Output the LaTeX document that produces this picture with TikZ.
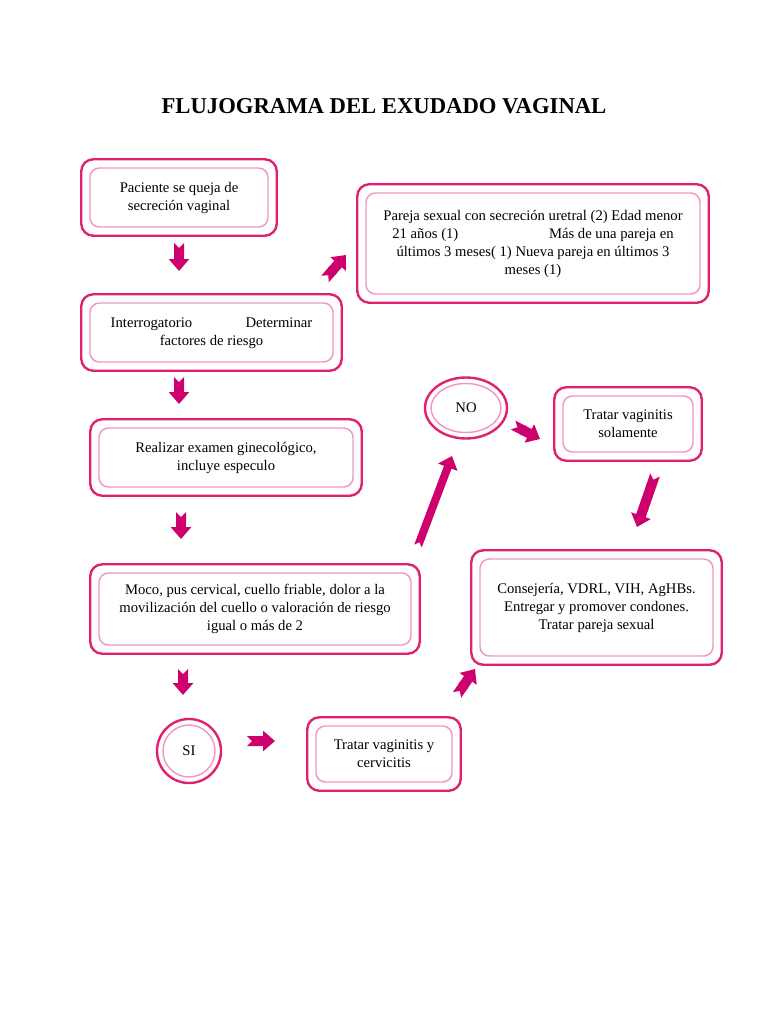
\documentclass[tikz,border=0pt]{standalone}
\usepackage{fontspec}
\setmainfont{Liberation Serif}
\usetikzlibrary{fit,shapes.geometric,arrows.meta}

\definecolor{bordeRosa}{RGB}{224,32,112}
\definecolor{rosaClaro}{RGB}{242,150,196}
\definecolor{flechaRosa}{RGB}{206,0,110}

\tikzset{
  caja/.style={draw=rosaClaro, line width=1.1pt, rounded corners=7pt, inner sep=0pt, align=center, font=\fontsize{11}{13.5}\selectfont},
  marco/.style={draw=bordeRosa, line width=1.8pt, rounded corners=9pt, inner sep=6pt},
  flecha/.style={draw=flechaRosa, line width=7.5pt, {Triangle Cap[reversed]}-{Triangle[width=15pt,length=9pt]}},
}

\begin{document}
\begin{tikzpicture}[x=0.75pt,y=0.75pt,yscale=-1,xscale=1]
\useasboundingbox (0,0) rectangle (768,1024);

% Text Node
\node[font=\fontsize{17}{20}\selectfont\bfseries] (titulo) at (384,106) {FLUJOGRAMA DEL EXUDADO VAGINAL};

%Shape: Rounded Rect [paciente]
\node[caja, minimum width=133.5pt, minimum height=44.25pt] (paciente) at (179,197.5) {Paciente se queja de\\secreción vaginal};
\node[marco, fit=(paciente)] (paciente-o) {};
%Shape: Rounded Rect [pareja]
\node[caja, minimum width=250.5pt, minimum height=75.75pt] (pareja) at (533,243.5) {Pareja sexual con secreción uretral (2) Edad menor\\21 años (1)\hspace*{68pt}Más de una pareja en\\últimos 3 meses( 1) Nueva pareja en últimos 3\\meses (1)};
\node[marco, fit=(pareja)] (pareja-o) {};
%Shape: Rounded Rect [interrogatorio]
\node[caja, minimum width=182.25pt, minimum height=44.25pt] (interrog) at (211.5,332.5) {\raisebox{3.75pt}{\begin{tabular}{@{}c@{}}Interrogatorio\hspace*{40pt}Determinar\\factores de riesgo\end{tabular}}};
\node[marco, fit=(interrog)] (interrog-o) {};
%Shape: Rounded Rect [examen]
\node[caja, minimum width=190.5pt, minimum height=44.25pt] (examen) at (226,457.5) {Realizar examen ginecológico,\\incluye especulo};
\node[marco, fit=(examen)] (examen-o) {};
%Shape: Rounded Rect [moco]
\node[caja, minimum width=234pt, minimum height=54pt] (moco) at (255,609) {Moco, pus cervical, cuello friable, dolor a la\\movilización del cuello o valoración de riesgo\\igual o más de 2};
\node[marco, fit=(moco)] (moco-o) {};
%Shape: Rounded Rect [cervicitis]
\node[caja, minimum width=102pt, minimum height=42pt] (cervicitis) at (384,754) {Tratar vaginitis y\\cervicitis};
\node[marco, fit=(cervicitis)] (cervicitis-o) {};
%Shape: Rounded Rect [consejeria]
\node[caja, minimum width=174.75pt, minimum height=72.75pt] (consejeria) at (596.5,607.5) {Consejería, VDRL, VIH, AgHBs.\\Entregar y promover condones.\\Tratar pareja sexual};
\node[marco, fit=(consejeria)] (consejeria-o) {};
%Shape: Rounded Rect [solamente]
\node[caja, minimum width=97.5pt, minimum height=42pt] (solamente) at (628,424) {Tratar vaginitis\\solamente};
\node[marco, fit=(solamente)] (solamente-o) {};

%Shape: Ellipse [no]
\node[caja, ellipse, minimum width=52.5pt, minimum height=36.75pt] (no) at (466,408) {NO};
\node[marco, ellipse, inner sep=0pt, minimum width=61.5pt, minimum height=45.75pt] (no-o) at (no) {};
%Shape: Circle [si]
\node[caja, circle, minimum size=39pt] (si) at (189,751) {SI};
\node[marco, circle, inner sep=0pt, minimum size=48pt] (si-o) at (si) {};

% Block arrows
\coordinate (f1a) at (179,243);  \coordinate (f1b) at (179,271);
\coordinate (f2a) at (325,279);  \coordinate (f2b) at (346,255);
\coordinate (f3a) at (179,377);  \coordinate (f3b) at (179,404);
\coordinate (f4a) at (181,512);  \coordinate (f4b) at (181,539);
\coordinate (f5a) at (183,669);  \coordinate (f5b) at (183,695);
\coordinate (f6a) at (247,741);  \coordinate (f6b) at (275,741);
\coordinate (f7a) at (457,695);  \coordinate (f7b) at (475,669);
\coordinate (f8a) at (418,546);  \coordinate (f8b) at (452,456);
\coordinate (f9a) at (513,425);  \coordinate (f9b) at (540,439);
\coordinate (f10a) at (655,475); \coordinate (f10b) at (637,527);

\draw[flecha] (f1a) -- (f1b);
\draw[flecha] (f2a) -- (f2b);
\draw[flecha] (f3a) -- (f3b);
\draw[flecha] (f4a) -- (f4b);
\draw[flecha] (f5a) -- (f5b);
\draw[flecha] (f6a) -- (f6b);
\draw[flecha] (f7a) -- (f7b);
\draw[flecha, line width=6pt] (f8a) -- (f8b);
\draw[flecha] (f9a) -- (f9b);
\draw[flecha] (f10a) -- (f10b);

\end{tikzpicture}
\end{document}
